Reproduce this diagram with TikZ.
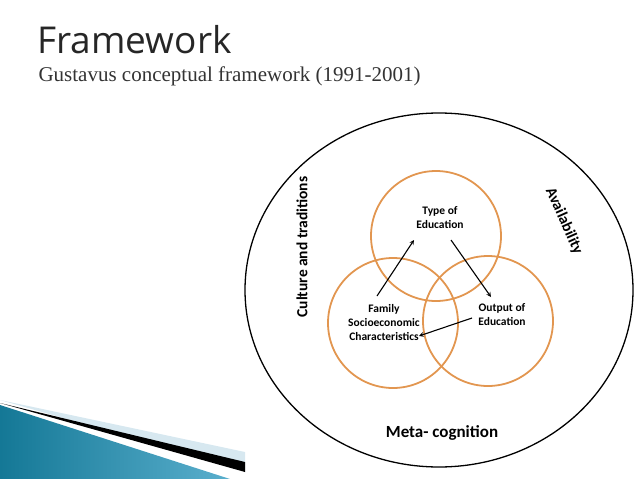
\documentclass[tikz,border=0pt]{standalone}
\usepackage{fontspec}
\setmainfont{Carlito}
\newfontfamily\titlefont{Open Sans}
\newfontfamily\subfont{Liberation Serif}
\definecolor{ringorange}{RGB}{226,150,80}
\definecolor{tealdark}{RGB}{20,120,150}
\definecolor{teallight}{RGB}{90,175,205}
\definecolor{paleblue}{RGB}{215,232,240}
\begin{document}
\begin{tikzpicture}[x=1pt, y=-1pt,
        ring/.style={draw=ringorange, line width=1.8pt},
        lbl/.style={font=\bfseries\fontsize{11.5}{14}\selectfont, align=center},
        big/.style={font=\bfseries\fontsize{15.5}{18}\selectfont},
        link/.style={->, line width=1.1pt, >=stealth}
        ]
        \useasboundingbox (0,0) rectangle (638,479);
        % Title
        \node[anchor=west, font=\titlefont\fontsize{37}{40}\selectfont, text=black!85] (title) at (34,40) {Framework};
        \node[anchor=west, font=\subfont\fontsize{21}{24}\selectfont, text=black!80] (sub) at (35,76) {Gustavus conceptual framework (1991-2001)};
        % Corner decoration
        \fill[paleblue] (0,400) -- (245,452) -- (245,470) -- cycle;
        \fill[black] (0,403) -- (245,462) -- (245,472) -- cycle;
        \shade[left color=tealdark, right color=teallight] (0,405) -- (230,479) -- (0,479) -- cycle;
        % Circles
        \draw[line width=1.3pt] (439,290) ellipse (194 and 177);
        \draw[ring] (436,236) circle (65);
        \draw[ring] (393,323) circle (65);
        \draw[ring] (488,321) circle (65);
        % Labels
        \node[lbl] (type) at (440,218) {Type of\\Education};
        \node[lbl] (family) at (384,323) {Family\\Socioeconomic\\Characteristics};
        \node[lbl] (output) at (502,315) {Output of\\Education};
        \node[big, rotate=90] (culture) at (302,247) {Culture and traditions};
        \node[big, rotate=-66] (avail) at (564,221) {Availability};
        \node[font=\bfseries\fontsize{17}{20}\selectfont] (meta) at (442,433) {Meta- cognition};
        % Arrows
        \coordinate (f1) at (377,296);
        \coordinate (t1) at (414,240);
        \coordinate (t2) at (451,240);
        \coordinate (o1) at (491,297);
        \coordinate (o2) at (472,318);
        \coordinate (f2) at (419,336);
        \draw[link] (f1) -- (t1);
        \draw[link] (t2) -- (o1);
        \draw[link] (o2) -- (f2);
\end{tikzpicture}
\end{document}
